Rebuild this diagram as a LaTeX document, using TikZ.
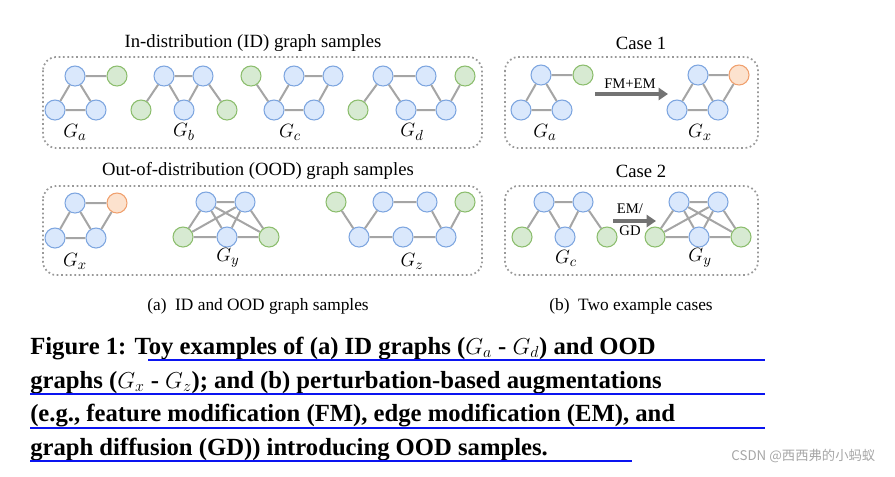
\documentclass[tikz,border=0pt]{standalone}
\usepackage{fontspec}
\setmainfont{Liberation Serif}
\newfontfamily\cjk{Noto Sans CJK SC}
\usetikzlibrary{arrows.meta}
\definecolor{bfill}{RGB}{218,232,252}\definecolor{bdraw}{RGB}{126,166,224}
\definecolor{gfill}{RGB}{215,234,210}\definecolor{gdraw}{RGB}{140,190,110}
\definecolor{ofill}{RGB}{252,226,206}\definecolor{odraw}{RGB}{240,160,110}
\definecolor{edg}{RGB}{165,165,165}\definecolor{ulb}{RGB}{10,20,240}
\tikzset{
 nd/.style={circle,minimum size=15pt,inner sep=0pt,line width=0.8pt},
 B/.style={nd,fill=bfill,draw=bdraw},
 Gn/.style={nd,fill=gfill,draw=gdraw},
 O/.style={nd,fill=ofill,draw=odraw},
 e/.style={draw=edg,line width=1.5pt},
 box/.style={draw=gray!80,dotted,line width=1.3pt,rounded corners=10pt},
 ttl/.style={font=\fontsize{14}{16}\selectfont},
 lab/.style={font=\fontsize{15}{17}\selectfont},
 subcap/.style={font=\fontsize{13}{15}\selectfont},
 arr/.style={draw=gray!110,line width=3pt,-{Triangle[length=7pt,width=9pt]}},
 al/.style={font=\fontsize{11}{12}\selectfont},
 fc/.style={anchor=base west,inner sep=0pt,font=\bfseries\fontsize{18.5}{20}\selectfont},
 ul/.style={draw=ulb,line width=1.5pt}
}
\begin{document}
\begin{tikzpicture}[x=0.75pt,y=-0.75pt]
\useasboundingbox (0,0) rectangle (895,476);
% ID box
\node[ttl] (t1) at (253,43) {In-distribution (ID) graph samples};
\draw[box] (43,57) rectangle (482,148);
% Ga
\node[B] (a1) at (75,76) {}; \node[Gn] (a2) at (117,76) {}; \node[B] (a3) at (55,110) {}; \node[B] (a4) at (96,110) {};
\draw[e] (a1)--(a2) (a1)--(a3) (a1)--(a4) (a3)--(a4);
\node[lab] (la) at (75,132) {$G_a$};
% Gb
\node[Gn] (b1) at (141,110) {}; \node[B] (b2) at (164,76) {}; \node[B] (b3) at (184,110) {}; \node[B] (b4) at (203,76) {}; \node[Gn] (b5) at (227,110) {};
\draw[e] (b1)--(b2) (b2)--(b4) (b2)--(b3) (b3)--(b4) (b4)--(b5);
\node[lab] (lb) at (184,132) {$G_b$};
% Gc
\node[Gn] (c1) at (251,76) {}; \node[B] (c2) at (274,110) {}; \node[B] (c3) at (294,76) {}; \node[B] (c4) at (333,76) {}; \node[B] (c5) at (314,110) {};
\draw[e] (c1)--(c2) (c2)--(c3) (c3)--(c4) (c2)--(c5) (c5)--(c4);
\node[lab] (lc) at (290,132) {$G_c$};
% Gd
\node[Gn] (d1) at (358,110) {}; \node[B] (d2) at (383,76) {}; \node[B] (d3) at (426,76) {}; \node[Gn] (d4) at (465,76) {}; \node[B] (d5) at (406,110) {}; \node[B] (d6) at (446,110) {};
\draw[e] (d1)--(d2) (d2)--(d3) (d2)--(d5) (d5)--(d6) (d3)--(d6) (d6)--(d4);
\node[lab] (ld) at (412,132) {$G_d$};
% OOD
\node[ttl] (t2) at (258,171) {Out-of-distribution (OOD) graph samples};
\draw[box] (43,186) rectangle (482,275);
\node[B] (x1) at (75,203) {}; \node[O] (x2) at (117,203) {}; \node[B] (x3) at (55,238) {}; \node[B] (x4) at (96,238) {};
\draw[e] (x1)--(x2) (x1)--(x3) (x1)--(x4) (x3)--(x4) (x4)--(x2);
\node[lab] (lx) at (75,261) {$G_x$};
\node[B] (y1) at (206,202) {}; \node[B] (y2) at (245,202) {}; \node[Gn] (y3) at (183,237) {}; \node[B] (y4) at (227,237) {}; \node[Gn] (y5) at (269,237) {};
\draw[e] (y1)--(y2) (y1)--(y3) (y1)--(y4) (y1)--(y5) (y2)--(y3) (y2)--(y4) (y2)--(y5) (y3)--(y4) (y4)--(y5);
\node[lab] (ly) at (228,258) {$G_y$};
\node[Gn] (z1) at (336,202) {}; \node[B] (z2) at (359,237) {}; \node[B] (z3) at (383,202) {}; \node[B] (z4) at (427,202) {}; \node[Gn] (z5) at (465,202) {}; \node[B] (z6) at (403,237) {}; \node[B] (z7) at (446,237) {};
\draw[e] (z1)--(z2) (z2)--(z3) (z3)--(z4) (z2)--(z6) (z6)--(z7) (z4)--(z7) (z7)--(z5);
\node[lab] (lz) at (412,261) {$G_z$};
% Case 1
\node[ttl] (t3) at (641,43) {Case 1};
\draw[box] (505,57) rectangle (758,148);
\node[B] (p1) at (541,75) {}; \node[Gn] (p2) at (583,75) {}; \node[B] (p3) at (521,110) {}; \node[B] (p4) at (562,110) {};
\draw[e] (p1)--(p2) (p1)--(p3) (p1)--(p4) (p3)--(p4);
\node[lab] (lp) at (545,132) {$G_a$};
\coordinate (a1s) at (595,94); \coordinate (a1e) at (668,94);
\draw[arr] (a1s)--(a1e);
\node[al] (fm) at (630,84) {FM+EM};
\node[B] (q1) at (698,75) {}; \node[O] (q2) at (739,75) {}; \node[B] (q3) at (677,110) {}; \node[B] (q4) at (718,110) {};
\draw[e] (q1)--(q2) (q1)--(q3) (q1)--(q4) (q3)--(q4) (q4)--(q2);
\node[lab] (lq) at (700,132) {$G_x$};
% Case 2
\node[ttl] (t4) at (641,171) {Case 2};
\draw[box] (505,186) rectangle (758,275);
\node[Gn] (r1) at (522,237) {}; \node[B] (r2) at (544,202) {}; \node[B] (r3) at (565,237) {}; \node[B] (r4) at (583,202) {}; \node[Gn] (r5) at (607,237) {};
\draw[e] (r1)--(r2) (r2)--(r4) (r2)--(r3) (r3)--(r4) (r4)--(r5);
\node[lab] (lr) at (566,258) {$G_c$};
\coordinate (a2s) at (613,221); \coordinate (a2e) at (656,221);
\draw[arr] (a2s)--(a2e);
\node[al] (em) at (630,209) {EM/}; \node[al] (gd) at (630,231) {GD};
\node[B] (s1) at (679,202) {}; \node[B] (s2) at (718,202) {}; \node[Gn] (s3) at (655,237) {}; \node[B] (s4) at (699,237) {}; \node[Gn] (s5) at (741,237) {};
\draw[e] (s1)--(s2) (s1)--(s3) (s1)--(s4) (s1)--(s5) (s2)--(s3) (s2)--(s4) (s2)--(s5) (s3)--(s4) (s4)--(s5);
\node[lab] (ls) at (700,258) {$G_y$};
% subcaptions
\node[subcap] (ca) at (258,306) {(a)\ \ ID and OOD graph samples};
\node[subcap] (cb) at (631,306) {(b)\ \ Two example cases};
% figure caption
\node[fc] (f1) at (30,354) {Figure 1: Toy examples of (a) ID graphs ($G_a$ - $G_d$) and OOD};
\node[fc] (f2) at (30,388) {graphs ($G_x$ - $G_z$); and (b) perturbation-based augmentations};
\node[fc] (f3) at (30,421) {(e.g., feature modification (FM), edge modification (EM), and};
\node[fc] (f4) at (30,455) {graph diffusion (GD)) introducing OOD samples.};
\coordinate (u1a) at (148,360); \coordinate (u1b) at (765,360);
\coordinate (u2a) at (30,394); \coordinate (u2b) at (765,394);
\coordinate (u3a) at (30,428); \coordinate (u3b) at (765,428);
\coordinate (u4a) at (30,461); \coordinate (u4b) at (632,461);
\draw[ul] (u1a)--(u1b) (u2a)--(u2b) (u3a)--(u3b) (u4a)--(u4b);
\node[anchor=east,text=gray!70,font=\cjk\fontsize{10}{12}\selectfont] (wm) at (880,456) {CSDN @西西弗的小蚂蚁};
\end{tikzpicture}
\end{document}
